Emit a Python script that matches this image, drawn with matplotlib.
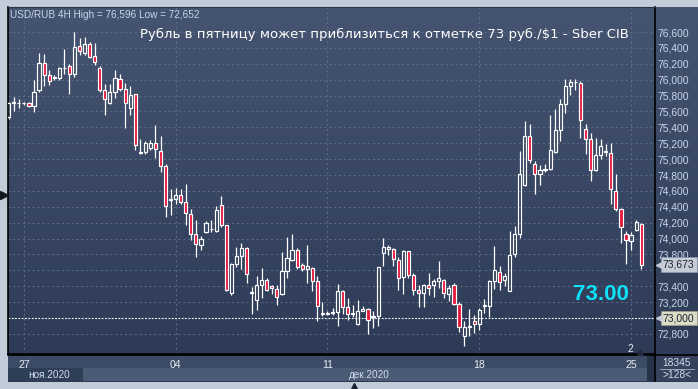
import numpy as np
import matplotlib.pyplot as plt
from matplotlib.patches import Rectangle
from matplotlib.lines import Line2D

# USD/RUB 4H candles
opens = [75.534, 75.710, 75.706, 75.702, 75.706, 75.664, 75.866, 76.214, 76.059, 76.017,
         76.017, 76.143, 76.172, 76.067, 76.424, 76.340, 76.454, 76.298, 76.151, 75.874,
         75.710, 75.845, 76.013, 75.887, 75.639, 75.815, 75.080, 75.088, 75.143, 75.206,
         75.101, 74.912, 74.483, 74.492, 74.546, 74.462, 74.311, 74.059, 73.924, 74.080,
         74.118, 74.101, 74.420, 74.168, 73.315, 73.685, 73.777, 73.882, 73.315, 73.227,
         73.412, 73.483, 73.399, 73.370, 73.307, 73.588, 73.735, 73.853, 73.664, 73.618,
         73.630, 73.462, 73.055, 73.055, 73.063, 73.071, 73.336, 73.134, 73.050, 72.924,
         73.092, 73.118, 73.017, 73.021, 73.819, 73.874, 73.870, 73.735, 73.513, 73.840,
         73.546, 73.349, 73.315, 73.420, 73.412, 73.462, 73.483, 73.307, 73.420, 73.176,
         72.769, 72.891, 72.958, 72.924, 73.155, 73.147, 73.462, 73.576, 73.475, 73.345,
         73.807, 74.059, 74.672, 75.290, 74.941, 74.807, 74.857, 74.882, 75.088, 75.366,
         75.689, 75.920, 75.966, 75.958, 75.382, 75.256, 74.857, 75.050, 75.088, 75.071,
         74.597, 74.366, 74.063, 73.975, 74.105, 74.189]
highs = [75.720, 75.782, 75.752, 75.723, 75.723, 75.992, 76.340, 76.328, 76.118, 76.059,
         76.164, 76.391, 76.193, 76.596, 76.529, 76.542, 76.471, 76.466, 76.172, 75.950,
         75.950, 76.118, 76.076, 75.962, 75.920, 75.824, 75.248, 75.227, 75.235, 75.424,
         75.286, 74.941, 74.626, 74.639, 74.626, 74.681, 74.378, 74.240, 74.029, 74.227,
         74.231, 74.408, 74.542, 74.176, 73.693, 73.895, 73.945, 73.891, 73.387, 73.525,
         73.630, 73.504, 73.420, 73.420, 73.828, 74.021, 74.063, 73.882, 73.693, 73.916,
         73.639, 73.525, 73.197, 73.084, 73.126, 73.429, 73.357, 73.252, 73.168, 73.231,
         73.147, 73.126, 73.084, 73.639, 74.008, 73.924, 73.882, 73.765, 73.861, 73.849,
         73.567, 73.420, 73.429, 73.567, 73.496, 73.723, 73.496, 73.420, 73.441, 73.202,
         72.958, 73.113, 73.034, 73.126, 73.244, 73.475, 73.903, 73.651, 73.567, 74.092,
         74.155, 75.101, 75.479, 75.445, 74.975, 74.924, 74.933, 75.555, 75.626, 75.752,
         76.004, 76.004, 76.004, 75.983, 75.437, 75.328, 75.269, 75.248, 75.193, 75.206,
         74.815, 74.387, 74.101, 74.084, 74.240, 74.197]
lows = [75.500, 75.605, 75.647, 75.681, 75.655, 75.597, 75.849, 75.920, 75.929, 75.996,
        75.996, 76.076, 75.815, 76.038, 76.311, 76.311, 76.277, 76.181, 75.849, 75.550,
        75.697, 75.773, 75.857, 75.395, 75.550, 75.109, 75.067, 75.059, 75.109, 75.008,
        74.840, 74.273, 74.303, 74.437, 74.429, 74.176, 73.979, 73.765, 73.861, 74.071,
        74.084, 74.084, 74.147, 73.336, 73.294, 73.639, 73.622, 73.441, 73.055, 73.105,
        73.252, 73.336, 73.307, 73.168, 73.294, 73.504, 73.714, 73.622, 73.588, 73.441,
        73.336, 72.966, 73.021, 73.034, 73.042, 72.895, 73.055, 72.979, 73.013, 72.916,
        73.084, 72.798, 72.874, 72.895, 73.651, 73.798, 73.651, 73.357, 73.307, 73.504,
        73.294, 73.134, 73.134, 73.286, 73.261, 73.378, 73.252, 73.210, 73.168, 72.824,
        72.652, 72.769, 72.811, 72.853, 73.063, 73.013, 73.370, 73.357, 73.399, 73.336,
        73.765, 74.008, 74.660, 74.954, 74.555, 74.672, 74.840, 74.857, 75.071, 75.227,
        75.584, 75.807, 75.866, 75.269, 75.059, 74.731, 74.849, 74.996, 75.038, 74.441,
        74.345, 73.945, 73.685, 73.861, 74.101, 73.622]
closes = [75.710, 75.715, 75.710, 75.706, 75.664, 75.845, 76.214, 76.055, 75.983, 76.034,
          76.151, 76.151, 76.067, 76.416, 76.361, 76.454, 76.290, 76.223, 75.866, 75.752,
          75.845, 76.025, 75.878, 75.702, 75.807, 75.172, 75.088, 75.206, 75.206, 75.130,
          74.912, 74.408, 74.492, 74.546, 74.458, 74.319, 74.059, 73.933, 73.996, 74.197,
          74.126, 74.357, 74.168, 73.357, 73.685, 73.777, 73.882, 73.555, 73.324, 73.412,
          73.483, 73.357, 73.378, 73.261, 73.588, 73.756, 73.853, 73.643, 73.618, 73.651,
          73.462, 73.147, 73.063, 73.063, 73.076, 73.336, 73.134, 73.055, 73.059, 73.092,
          73.118, 72.971, 73.025, 73.639, 73.895, 73.895, 73.744, 73.504, 73.840, 73.538,
          73.349, 73.315, 73.420, 73.378, 73.462, 73.504, 73.315, 73.378, 73.176, 72.882,
          72.882, 72.899, 72.924, 73.105, 73.164, 73.462, 73.601, 73.454, 73.525, 73.790,
          74.059, 74.815, 75.290, 74.987, 74.815, 74.861, 74.882, 75.113, 75.366, 75.697,
          75.920, 75.975, 75.975, 75.492, 75.248, 74.857, 75.050, 75.164, 75.097, 74.618,
          74.366, 74.143, 73.987, 74.050, 74.206, 73.673]

day_pos = [3, 33, 63, 93, 123]
day_labels = ["27", "04", "11", "18", "25"]
price_ticks = [72.8, 73.0, 73.2, 73.4, 73.6, 73.8, 74.0, 74.2, 74.4, 74.6, 74.8,
               75.0, 75.2, 75.4, 75.6, 75.8, 76.0, 76.2, 76.4, 76.6]
last_price = 73.673
level = 73.0
title = "Рубль в пятницу может приблизиться к отметке 73 руб./$1 - Sber CIB"
info = "USD/RUB 4H High = 76,596 Low = 72,652"

W, H = 698, 389
def fx(x):
    return x / W
def fy(y):
    return 1 - y / H

fig = plt.figure(figsize=(W / 100, H / 100), dpi=100)
fig.patch.set_facecolor("#c2ccd8")

# dark gradient background of the terminal window
bg = fig.add_axes([fx(8), fy(382), (698 - 8) / W, (382 - 7) / H])
grad = np.linspace(0, 1, 256).reshape(-1, 1)
top_c = np.array([0x45, 0x54, 0x70]) / 255
bot_c = np.array([0x2b, 0x39, 0x55]) / 255
img = top_c[None, None, :] * (1 - grad[:, :, None]) + bot_c[None, None, :] * grad[:, :, None]
bg.imshow(img, aspect="auto", extent=[0, 1, 0, 1])
bg.axis("off")

# bottom bands (drawn in the background axes so tick labels stay on top)
def band(x0, y0, x1, y1, col):
    bg.add_patch(Rectangle((fx(x0), fy(y1)), (x1 - x0) / W, (y1 - y0) / H,
                           transform=fig.transFigure, facecolor=col, edgecolor="none",
                           clip_on=False, zorder=2))

band(8, 355, 655, 368, "#3d4c66")
band(8, 368, 83, 381, "#2f3e57")
band(83, 368, 647, 381, "#4b5b76")
band(647, 355, 655, 381, "#263248")
band(655, 355, 698, 381, "#34425c")

ax = fig.add_axes([fx(8), fy(354), (655 - 8) / W, (354 - 7) / H])
ax.set_facecolor("none")
ax.set_xlim(-0.14, 127.73)
ax.set_ylim(72.547, 76.915)

o = np.array(opens)
c = np.array(closes)
hi = np.array(highs)
lo = np.array(lows)
x = np.arange(len(o))
up = c >= o
top = np.maximum(o, c)
bot = np.minimum(o, c)
body = np.maximum(top - bot, 0.004)

ax.vlines(x, top, hi, color="white", linewidth=0.9, zorder=3)
ax.vlines(x, lo, bot, color="white", linewidth=0.9, zorder=3)
ax.bar(x[up], body[up], bottom=bot[up], width=0.62, facecolor="none",
       edgecolor="white", linewidth=0.85, zorder=4)
ax.bar(x[~up], body[~up], bottom=bot[~up], width=0.62, facecolor="#e4173c",
       edgecolor="white", linewidth=0.85, zorder=4)

ax.axhline(level, color="white", linestyle=(0, (1.5, 1.5)), linewidth=0.8, zorder=2)

# 73,600 and 73,000 are hidden behind the price boxes, as on the terminal
hidden = [73.6, 73.0]
ax.set_yticks(price_ticks)
ax.set_yticklabels(["" if v in hidden else f"{v:.3f}".replace(".", ",") for v in price_ticks])
ax.yaxis.tick_right()
ax.set_xticks(day_pos)
ax.set_xticklabels(day_labels)
ax.tick_params(axis="y", length=0, pad=2, labelsize=7.4, labelcolor="#c8d6ea")
ax.tick_params(axis="x", length=0, pad=4.5, labelsize=7.6, labelcolor="#e6ecf4")
for lab in ax.get_yticklabels() + ax.get_xticklabels():
    lab.set_family("Liberation Sans")
ax.grid(True, color="#5e6d89", linestyle=(0, (2, 3)), linewidth=0.7, zorder=1)
for s in ["left", "right", "bottom"]:
    ax.spines[s].set_color("black")
    ax.spines[s].set_linewidth(1.2)
ax.spines["top"].set_color("#2a3448")

# title and info texts
fig.text(fx(629), fy(34), title, ha="right", va="center", color="white", fontsize=9.5)
fig.text(fx(10), fy(15), info, ha="left", va="center", color="#c8d6ea",
         fontsize=7.2, family="Liberation Sans")
ax.text(117, 73.302, "73.00", ha="center", va="center", color="#10e0f8",
        fontsize=16, fontweight="bold", family="Liberation Sans", zorder=6)

# price boxes on the right scale
ax.text(1.012, last_price, "73,673", transform=ax.get_yaxis_transform(), ha="left", va="center",
        fontsize=7.4, family="Liberation Sans", color="#1a2233", zorder=6, clip_on=False,
        bbox=dict(boxstyle="square,pad=0.22", facecolor="#c5ccd6", edgecolor="#8c98a8", linewidth=0.6))
ax.text(1.012, level, "73,000", transform=ax.get_yaxis_transform(), ha="left", va="center",
        fontsize=7.4, family="Liberation Sans", color="#1a2233", zorder=6, clip_on=False,
        bbox=dict(boxstyle="square,pad=0.22", facecolor="#dcdcc6", edgecolor="#9a9a88", linewidth=0.6))
ax.plot([1.006, 1.006], [last_price, level], transform=ax.get_yaxis_transform(), linestyle="none",
        marker="<", markersize=4, color="#c5ccd6", clip_on=False, zorder=6)

fig.lines.append(Line2D([fx(8), fx(698)], [fy(354.5), fy(354.5)], transform=fig.transFigure,
                        color="black", linewidth=1.2))
fig.lines.append(Line2D([fx(655), fx(655)], [fy(354), fy(381)], transform=fig.transFigure,
                        color="black", linewidth=1.2))
fig.lines.append(Line2D([fx(660), fx(694)], [fy(368.5), fy(368.5)], transform=fig.transFigure,
                        color="#aab6c8", linewidth=0.6))

fig.text(fx(49), fy(374.5), "ноя.2020", ha="center", va="center", color="#d0dcec",
         fontsize=7.2, family="Liberation Sans")
fig.text(fx(369.5), fy(374.5), "дек.2020", ha="center", va="center", color="#d0dcec",
         fontsize=7.2, family="Liberation Sans")
fig.text(fx(677), fy(363), "18345", ha="center", va="center", color="#d0dcec",
         fontsize=7.4, family="Liberation Sans")
fig.text(fx(677), fy(374.5), ">128<", ha="center", va="center", color="#d0dcec",
         fontsize=7.4, family="Liberation Sans")
fig.text(fx(630.5), fy(349.5), "2", ha="center", va="center", color="#e6ecf4",
         fontsize=7.4, family="Liberation Sans")
fig.lines.append(Line2D([fx(639.5)], [fy(351.5)], transform=fig.transFigure, marker="^",
                        markersize=4, color="#1f2a3c", linestyle="none"))
fig.lines.append(Line2D([fx(3.5)], [fy(195)], transform=fig.transFigure, marker=">",
                        markersize=6, color="#111820", linestyle="none"))
fig.lines.append(Line2D([fx(353.5)], [fy(386)], transform=fig.transFigure, marker="^",
                        markersize=5, color="#1a2230", linestyle="none"))

fig.savefig("out.png", dpi=100, facecolor=fig.get_facecolor())
